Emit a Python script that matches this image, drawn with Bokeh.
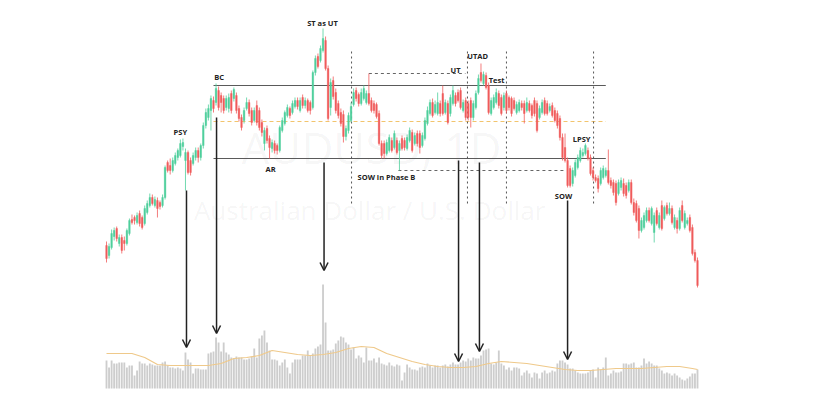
from bokeh.plotting import figure
from bokeh.models import ColumnDataSource, Range1d, Arrow, OpenHead
from bokeh.core.properties import value
from bokeh.embed import file_html
from bokeh.resources import INLINE

# ---------------- data (price in chart points, volume in relative units) ----------------
open_ = [55,45,53,64,72,57,63,60,57,67, 81,83,78,87,83,77,88,95,103,95,
         100,98,95,103,138,135,130,137,143,145, 154,140,148,140,137,143,150,143,155,175,
         183,190,200,198,210,205,202,193,192,207, 202,205,192,183,180,192,198,190,180,195,
         190,178,157,172,162,152,157,155,150,170, 177,185,192,188,194,200,190,203,195,200,
         198,193,228,244,240,250,260,232,193,220, 208,197,188,186,164,170,180,196,210,206,
         197,202,198,207,200,197,196,187,157,157, 147,150,160,153,160,150,162,160,152,160,
         168,157,167,167,155,162,177,187,198,188, 187,197,207,188,197,187,197,205,208,210,
         190,200,197,200,183,193,208,228,217,225, 215,187,193,198,207,203,193,207,203,202,
         200,188,190,197,197,190,197,195,200,197, 183,188,200,197,190,195,190,187,182,163,
         153,140,132,117,125,133,140,145,147,150, 143,130,123,122,117,123,125,130,120,118,
         117,107,113,117,115,110,118,98,97,92, 70,73,80,90,77,68,90,73,95,82,
         95,87,92,73,80,72,95,73,77,83, 73,48,40]
close = [42,54,67,70,62,63,50,57,70,80, 78,80,85,77,73,92,97,103,97,101,
         92,94,103,133,130,130,140,145,150,157, 158,148,128,128,145,150,143,155,175,188,
         192,202,192,212,193,198,190,202,203,190, 211,190,182,173,190,198,187,178,190,178,
         173,168,170,160,153,158,150,150,173,180, 188,193,185,197,200,194,200,195,200,190,
         190,228,242,234,252,262,232,182,218,204, 190,185,177,164,172,185,194,208,202,197,
         208,212,207,197,190,190,184,157,145,147, 158,163,150,167,148,157,152,153,163,170,
         150,165,157,153,165,180,190,198,185,196, 198,187,187,198,178,203,210,197,200,193,
         198,183,183,183,197,207,222,220,226,213, 188,200,203,208,195,187,205,190,193,187,
         192,196,198,193,187,198,190,185,187,170, 192,198,187,187,194,185,180,175,163,143,
         140,115,115,130,138,143,150,148,155,142, 127,123,120,112,130,132,130,118,115,108,
         98,118,120,107,105,118,98,88,80,70, 80,85,90,80,92,85,77,85,72,93,
         87,92,78,83,72,90,80,87,80,70, 47,40,15]
high = [59,57,71,73,74,66,66,64,72,82, 86,85,88,90,85,95,100,107,106,104,
        103,100,106,135,140,142,143,148,152,161, 162,152,150,143,148,153,153,157,178,192,
        196,205,204,217,214,208,205,205,207,210, 213,208,195,186,193,203,201,193,193,200,
        193,181,173,175,165,161,160,157,175,183, 190,196,194,200,203,203,203,206,203,202,
        200,230,245,247,255,272,264,235,222,224, 212,200,192,190,175,188,198,212,213,208,
        212,215,210,227,203,200,198,190,160,160, 161,166,163,170,163,160,165,163,166,173,
        171,168,170,170,168,183,194,201,202,200, 208,200,215,201,200,206,215,208,211,213,
        201,203,200,203,200,210,226,237,229,228, 218,203,206,212,210,206,208,210,205,204,
        203,199,201,200,200,203,200,197,203,200, 195,201,203,200,197,198,193,190,185,167,
        167,143,135,133,141,146,153,152,157,153, 146,133,126,125,133,135,133,151,123,121,
        120,121,123,122,118,121,121,102,100,95, 83,88,93,93,94,88,93,88,100,95,
        98,98,95,86,83,93,100,90,83,86, 76,51,43]
low = [38,42,51,60,59,54,47,50,55,65, 76,76,76,74,71,75,86,93,95,93,
       83,91,93,101,128,126,128,135,140,143, 150,110,126,125,135,140,138,140,152,172,
       180,170,188,195,190,188,187,190,188,187, 199,187,179,170,177,190,184,175,178,175,
       170,164,150,157,142,148,147,146,148,168, 175,183,182,186,192,191,188,192,192,188,
       186,191,225,232,238,248,230,180,185,201, 187,182,174,158,160,167,178,194,199,194,
       195,200,196,195,188,187,182,155,142,142, 145,148,148,151,146,130,150,150,150,158,
       148,155,154,147,153,160,175,185,183,186, 185,184,185,186,176,184,195,194,198,191,
       188,180,180,173,180,191,206,218,215,211, 186,185,191,196,192,185,190,187,190,184,
       190,186,188,190,177,188,188,182,184,168, 181,186,185,185,188,183,178,172,160,140,
       138,113,113,114,123,131,138,143,145,140, 125,120,118,108,115,121,123,116,112,105,
       95,105,110,104,102,108,96,85,78,62, 68,71,78,78,75,58,75,71,70,80,
       85,85,76,71,67,70,78,71,75,68, 45,38,13]
volume = [28,21,28,25,25,26,26,26,21,23,23,13,
          18,27,25,25,23,25,24,23,23,23,26,
          27,23,21,21,20,21,20,18,
          36,
          29,26,15,20,20,19,
          19,19,35,36,37,51,
          46,37,46,36,34,31,30,32,31,31,29,29,
          30,32,40,31,50,53,58,46,38,
          29,29,28,23,26,29,21,15,26,29,29,29,33,
          33,38,33,35,40,42,44,
          104,
          66,
          38,38,39,45,48,
          52,51,46,44,39,41,30,33,31,26,41,
          28,28,30,26,31,25,24,23,26,23,22,24,23,
          8,
          16,24,21,19,19,18,21,22,21,
          25,23,21,23,23,21,23,24,22,
          24,26,24,24,
          26,28,27,30,28,31,30,30,
          33,38,39,40,
          25,24,26,38,25,23,19,21,18,21,
          21,20,13,16,18,15,11,16,15,10,16,18,15,16,18,17,
          25,28,28,26,24,20,20,18,16,15,15,15,16,
          18,19,11,21,19,21,31,13,15,18,16,16,17,25,25,24,25,26,21,21,
          23,30,25,27,25,23,23,20,18,15,16,15,13,15,13,11,9,8,10,12,15,15,19]
vol_ma_index = list(range(0, 231, 5)) + [232]
vol_ma = [35,35,35,31,24,23,23,23,23,25,30,31,33,38,36,34,33,34,36,40,42,41,35,31,27,
          24,22,21,21,22,25,27,26,25,23,21,19,18,18,19,20,20,20,21,22,22,20,19]

# Wyckoff annotations
label_text = ["PSY", "BC", "AR", "ST as UT", "SOW in Phase B", "UT", "UTAD", "Test", "SOW", "LPSY"]
label_x = [29.0, 44.2, 64.4, 84.8, 109.9, 137.0, 145.7, 153.1, 179.4, 186.5]
label_y = [169, 224, 132, 278, 124, 231, 245, 221, 105, 162]

range_levels = [215, 142]          # trading range resistance / support
mid_level = 179                    # dashed midline
range_from, range_to = 42.0, 196.0
dash_h_y = [227, 130]
dash_h_x0 = [103.0, 114.6]
dash_h_x1 = [140.9, 180.3]
phase_x = [96.2, 141.7, 157.0, 191.2]
phase_y0, phase_y1 = 97, 251

arrow_x = [31.4, 43.2, 85.4, 138.2, 146.4, 181.0]
arrow_from = [110, 183, 138, 140, 138, 100]     # price level where arrow starts
arrow_tip_vol = [41, 55, 118, 27, 37, 29]      # volume level of arrow tip

# ---------------- layout ----------------
W, H = 836, 397
N = len(close)
assert len(open_) == N and len(high) == N and len(low) == N and len(volume) == N
FIRST_PX, LAST_PX = 106.0, 697.0
step = (LAST_PX - FIRST_PX) / (N - 1)
xs = -FIRST_PX / step
xe = xs + W / step
P_BOT, P_TOP = -97, 300
V_BOT, V_TOP = -9, 388

p = figure(width=W, height=H, x_range=Range1d(xs, xe), y_range=Range1d(P_BOT, P_TOP),
           output_backend="svg", toolbar_location=None, min_border=0)
p.extra_y_ranges = {"vol": Range1d(V_BOT, V_TOP)}
p.xaxis.visible = False
p.yaxis.visible = False
p.grid.visible = False
p.outline_line_color = None
p.background_fill_color = "white"
p.border_fill_color = "white"

# watermark
p.text(x=[104.0], y=[154], text=["AUDUSD, 1D"], text_font=value("Open Sans"),
       text_font_size="44px", text_color="#000000", text_alpha=0.045,
       text_align="center", text_baseline="middle")
p.text(x=[103.3], y=[91], text=["Australian Dollar / U.S. Dollar"], text_font=value("Open Sans"),
       text_font_size="26px", text_color="#000000", text_alpha=0.05,
       text_align="center", text_baseline="middle")

idx = list(range(N))
# volume
p.vbar(x=idx, top=volume, bottom=0, width=0.72, fill_color="#cdcdcd", line_color=None,
       y_range_name="vol")
p.line(vol_ma_index, vol_ma, line_color="#efc98a", line_width=1.2, y_range_name="vol")

# range lines
p.segment(x0=[range_from] * 2, y0=range_levels, x1=[range_to] * 2, y1=range_levels,
          line_color="#5a5a5a", line_width=1.2)
p.segment(x0=[range_from], y0=[mid_level], x1=[range_to], y1=[mid_level],
          line_color="#f2c46d", line_width=1, line_dash="4 3")
p.segment(x0=dash_h_x0, y0=dash_h_y, x1=dash_h_x1, y1=dash_h_y,
          line_color="#666666", line_width=1, line_dash="3 3")
p.segment(x0=phase_x, y0=[phase_y0] * 4, x1=phase_x, y1=[phase_y1] * 4,
          line_color="#555555", line_width=1, line_dash="2 3")

# candles
UP, DOWN = "#4fcf9c", "#f05c5c"
colors = [UP if c >= o else DOWN for o, c in zip(open_, close)]
src = ColumnDataSource(dict(x=idx, open=open_, close=close, high=high, low=low,
                            top=[max(o, c) for o, c in zip(open_, close)],
                            bottom=[min(o, c) for o, c in zip(open_, close)],
                            color=colors))
p.segment(x0="x", y0="high", x1="x", y1="low", line_color="color", line_width=1,
          line_alpha=0.8, source=src)
p.vbar(x="x", top="top", bottom="bottom", width=0.62, fill_color="color",
       line_color="color", line_width=0.4, source=src)

# labels
p.text(x=label_x, y=label_y, text=label_text, text_font=value("Open Sans"),
       text_font_size="7.5px", text_font_style="bold", text_color="#222222",
       text_align="center", text_baseline="middle")

# arrows to volume
shift = P_BOT - V_BOT
asrc = ColumnDataSource(dict(x=arrow_x, y0=arrow_from, y1=[v + shift for v in arrow_tip_vol]))
p.add_layout(Arrow(end=OpenHead(size=8, line_width=1.5, line_color="#222222"),
                   x_start="x", y_start="y0", x_end="x", y_end="y1", source=asrc,
                   line_color="#222222", line_width=1.5))

open("out.html", "w").write(file_html(p, INLINE))
